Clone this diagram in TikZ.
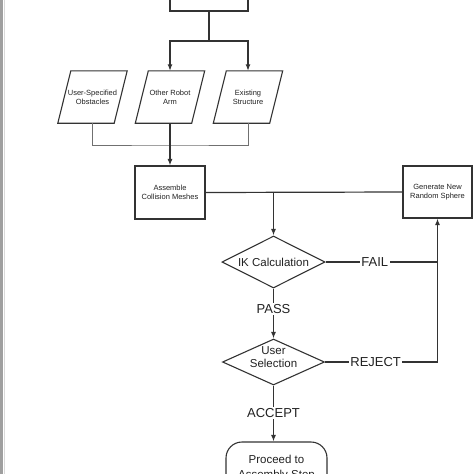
\documentclass[tikz,border=0pt]{standalone}
\usepackage{fontspec}
\setmainfont{Liberation Sans}
\usetikzlibrary{arrows.meta,shapes.geometric}
\definecolor{ln}{HTML}{333333}
\definecolor{tx}{HTML}{222222}
\tikzset{
  line/.style={draw=ln,line width=1.2pt},
  thinline/.style={draw=ln!70,line width=0.7pt},
  arr/.style={line,-{Latex[length=6.5pt,width=5pt]}},
  boxnode/.style={draw=ln,line width=1.1pt,minimum width=70pt,minimum height=53pt,inner sep=0pt,align=center,text=tx,font=\fontsize{7.5}{9.5}\selectfont},
  paranode/.style={minimum width=56pt,minimum height=52pt,inner sep=0pt,align=center,text=tx,font=\fontsize{7.5}{9}\selectfont},
  dianode/.style={draw=ln,line width=1.1pt,diamond,aspect=2,inner sep=0pt,align=center,text=tx,font=\fontsize{11.5}{13}\selectfont},
  lab/.style={fill=white,inner sep=1.5pt,text=tx,font=\fontsize{13}{15}\selectfont},
}
\begin{document}
\begin{tikzpicture}[x=1pt,y=-1pt]
\useasboundingbox (0,0) rectangle (474,474);
\clip (0,0) rectangle (474,474);
\fill[white] (0,0) rectangle (474,474);
\fill[gray!75] (0,0) rectangle (3,474);
\draw[gray!30,line width=0.4pt] (4.5,0) -- (4.5,474);
% nodes
\node[boxnode,minimum width=78pt,minimum height=52pt] (top) at (209,-15) {};
\node[paranode] (obs) at (92.5,97) {User-Specified\\Obstacles};
\node[paranode] (arm) at (170,97) {Other Robot\\Arm};
\node[paranode] (str) at (248,97) {Existing\\Structure};
\foreach \n in {obs,arm,str}
  \draw[draw=ln,line width=1.1pt] ([xshift=6.5pt]\n.north west) -- ([xshift=6.5pt]\n.north east) -- ([xshift=-6.5pt]\n.south east) -- ([xshift=-6.5pt]\n.south west) -- cycle;
\node[boxnode] (asm) at (170,192.5) {Assemble\\Collision Meshes};
\node[boxnode,minimum width=69pt,minimum height=52pt] (gen) at (437.5,192) {Generate New\\Random Sphere};
\node[dianode,minimum width=103pt,minimum height=52pt] (ik) at (273.5,262) {IK Calculation};
\node[dianode,minimum width=102pt,minimum height=46pt,
  label={[yshift=5pt,align=center,text=tx,font=\fontsize{11.5}{13}\selectfont]center:User\\Selection}] (sel) at (273.5,362) {};
\node[lab] (pass) at (273.5,309) {PASS};
\node[lab] (acc) at (273.5,413) {ACCEPT};
\node[draw=ln,line width=1.1pt,rounded corners=16pt,minimum width=101pt,minimum height=52pt,align=center,text=tx,font=\fontsize{11.5}{15}\selectfont] (proc) at (276.5,468) {Proceed to\\Assembly Step};
% connectors
\coordinate (split) at (209,41);
\draw[line] (top.south) -- (split);
\draw[arr] (split) -| (arm.north);
\draw[arr] (split) -| (str.north);
\coordinate (merge) at (170,145);
\draw[thinline] (obs.south) |- (merge) -| (str.south);
\draw[arr] (arm.south) -- (asm.north);
\draw[line] (asm.east) -- (gen.west);
\coordinate (jn) at (273.5,193);
\draw[arr] (jn) -- (ik.north);
\coordinate (fj) at (437.5,262);
\coordinate (rj) at (437.5,362);
\draw[line] (ik.east) -- node[lab,pos=0.44]{FAIL} (fj);
\draw[line] (sel.east) -- node[lab,pos=0.45]{REJECT} (rj) -- (fj);
\draw[arr] (fj) -- (gen.south);
\draw[line] (ik.south) -- (pass.north);
\draw[arr] (pass.south) -- (sel.north);
\draw[line] (sel.south) -- (acc.north);
\draw[arr] (acc.south) -- (acc.south |- proc.north);
\end{tikzpicture}
\end{document}
